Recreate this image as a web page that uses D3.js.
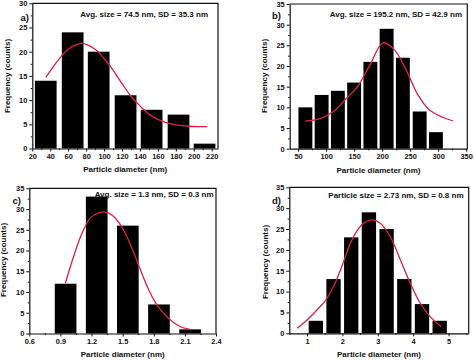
<!DOCTYPE html>
<html><head><meta charset="utf-8">
<script src="https://cdn.jsdelivr.net/npm/d3@7"></script>
<style>
html,body{margin:0;padding:0;background:#fff;}
svg text{font-family:"Liberation Sans",Arial,sans-serif;font-weight:bold;fill:#111;}
</style></head><body>
<svg id="chart" width="474" height="360"></svg>
<script>
// ---- Data ----
// Panel a
const aCenters = [35, 65, 94, 124, 153, 183, 212];
const aCounts = [14, 24, 20, 11, 8, 7, 1];
const aCurveX = [35, 50, 60, 74.5, 90, 100, 110, 120, 130, 140, 150, 160, 170, 180, 195, 215];
const aCurveY = [14.7, 18.5, 20.5, 21.7, 20.5, 18.6, 16.2, 13.4, 10.8, 8.8, 7.1, 6.0, 5.3, 4.9, 4.6, 4.5];
const aXTicks = [20, 40, 60, 80, 100, 120, 140, 160, 180, 200, 220];
const aYTicks = [0, 5, 10, 15, 20, 25, 30];
const aNote = "Avg. size = 74.5 nm, SD = 35.3 nm";
// Panel b
const bCenters = [63, 92, 121, 150, 179, 208, 237, 267, 296];
const bCounts = [10, 13, 14, 16, 21, 29, 22, 9, 4];
const bCurveX = [63, 89, 113, 136.6, 156, 178, 201.7, 222, 243, 264, 284, 308, 327];
const bCurveY = [6.7, 7.3, 9.0, 12.2, 15.0, 20.2, 25.6, 23.9, 19.0, 13.0, 9.4, 7.6, 6.7];
const bXTicks = [50, 100, 150, 200, 250, 300, 350];
const bYTicks = [0, 5, 10, 15, 20, 25, 30, 35];
const bNote = "Avg. size = 195.2 nm, SD = 42.9 nm";
// Panel c
const cCenters = [0.95, 1.25, 1.55, 1.85, 2.15];
const cCounts = [12, 33, 26, 7, 1];
const cCurveX = [0.948, 1.026, 1.107, 1.188, 1.268, 1.349, 1.43, 1.51, 1.591, 1.672, 1.752, 1.833, 1.914, 1.994, 2.075, 2.143];
const cCurveY = [12.1, 18.5, 24.1, 27.8, 29.1, 29.2, 27.8, 24.9, 20.5, 15.3, 10.5, 6.8, 4.4, 2.6, 1.45, 1.05];
const cXTicks = [0.6, 0.9, 1.2, 1.5, 1.8, 2.1, 2.4];
const cYTicks = [0, 5, 10, 15, 20, 25, 30, 35];
const cNote = "Avg. size = 1.3 nm, SD = 0.3 nm";
// Panel d
const dCenters = [1.25, 1.75, 2.25, 2.75, 3.25, 3.75, 4.25, 4.75];
const dCounts = [3, 13, 23, 29, 25, 13, 7, 3];
const dCurveX = [0.726, 1.0, 1.28, 1.5, 1.75, 2.0, 2.27, 2.55, 2.81, 3.07, 3.35, 3.64, 3.92, 4.2, 4.48, 4.79];
const dCurveY = [1.2, 3.2, 5.6, 7.6, 11.2, 16.4, 22.4, 26.0, 27.2, 26.4, 23.2, 17.6, 12.0, 7.2, 4.0, 1.6];
const dXTicks = [1, 2, 3, 4, 5];
const dYTicks = [0, 5, 10, 15, 20, 25, 30, 35];
const dNote = "Particle size = 2.73 nm, SD = 0.8 nm";

const xTitle = "Particle diameter (nm)";
const yTitle = "Frequency (counts)";

// ---- Layout ----
const panels = [
  {label:"a)", centers:aCenters, counts:aCounts, cx:aCurveX, cy:aCurveY, xt:aXTicks, yt:aYTicks, note:aNote,
   L:32.3, R:218, T:3.3, B:148.5, xd:[20,227], yd:[0,30], bw:24.2, fmt:d3.format("d"),
   labX:20.5, labY:20.5, noteR:208, noteY:17, xtY:172, ytX:10, ytY:76},
  {label:"b)", centers:bCenters, counts:bCounts, cx:bCurveX, cy:bCurveY, xt:bXTicks, yt:bYTicks, note:bNote,
   L:289.7, R:467.3, T:4, B:148.7, xd:[35,352], yd:[0,35], bw:24.8, fmt:d3.format("d"),
   labX:272, labY:18.5, noteR:462, noteY:16.5, xtY:173, ytX:267, ytY:76},
  {label:"c)", centers:cCenters, counts:cCounts, cx:cCurveX, cy:cCurveY, xt:cXTicks, yt:cYTicks, note:cNote,
   L:29.3, R:216, T:188.3, B:333.5, xd:[0.6,2.4], yd:[0,35], bw:0.209, fmt:d3.format(".1f"),
   labX:12.5, labY:204, noteR:213.5, noteY:196.5, xtY:357, ytX:6, ytY:260},
  {label:"d)", centers:dCenters, counts:dCounts, cx:dCurveX, cy:dCurveY, xt:dXTicks, yt:dYTicks, note:dNote,
   L:289.3, R:468.7, T:187.3, B:333.3, xd:[0.5,5.57], yd:[0,35], bw:0.405, fmt:d3.format("d"),
   labX:272, labY:203.5, noteR:463.5, noteY:198, xtY:357, ytX:268, ytY:262}
];

const svg = d3.select("#chart");
const RED = "#e11d48";

panels.forEach(p => {
  const x = d3.scaleLinear().domain(p.xd).range([p.L, p.R]);
  const y = d3.scaleLinear().domain(p.yd).range([p.B, p.T]);
  const g = svg.append("g");

  // bars
  g.selectAll("rect.bar").data(p.centers.map((c,i)=>({c, v:p.counts[i]}))).enter()
    .append("rect").attr("class","bar")
    .attr("x", d => x(d.c - p.bw/2))
    .attr("width", d => x(d.c + p.bw/2) - x(d.c - p.bw/2))
    .attr("y", d => y(d.v))
    .attr("height", d => y(0) - y(d.v))
    .attr("fill", "#000");

  // fitted curve
  const pts = p.cx.map((v,i)=>[v, p.cy[i]]);
  g.append("path").datum(pts)
    .attr("d", d3.line().x(d=>x(d[0])).y(d=>y(d[1])).curve(d3.curveCatmullRom.alpha(0.5)))
    .attr("fill","none").attr("stroke",RED).attr("stroke-width",1.3);

  // frame (top & right)
  g.append("path")
    .attr("d", `M${p.L},${p.T}H${p.R}V${p.B}`)
    .attr("fill","none").attr("stroke","#111").attr("stroke-width",1.2);

  // minor ticks
  const xStep = p.xt[1]-p.xt[0];
  const xMinor = [];
  const m0 = p.xt[0]-xStep/2; if (m0>=p.xd[0]) xMinor.push(m0);
  p.xt.forEach(v => { const m = v+xStep/2; if (m<=p.xd[1]) xMinor.push(m); });
  const yStep = p.yt[1]-p.yt[0];
  const yMinor = p.yt.slice(0,-1).map(v=>v+yStep/2);

  g.append("g").attr("transform",`translate(0,${p.B})`)
    .call(d3.axisBottom(x).tickValues(xMinor).tickFormat("").tickSize(1.6).tickSizeOuter(0))
    .select(".domain").remove();
  g.append("g").attr("transform",`translate(${p.L},0)`)
    .call(d3.axisLeft(y).tickValues(yMinor).tickFormat("").tickSize(1.6).tickSizeOuter(0))
    .select(".domain").remove();
  g.append("g").attr("class","xmajor").attr("transform",`translate(0,${p.B})`)
    .call(d3.axisBottom(x).tickValues(p.xt).tickFormat(p.fmt).tickSize(3).tickSizeOuter(0).tickPadding(2));
  g.append("g").attr("transform",`translate(${p.L},0)`)
    .call(d3.axisLeft(y).tickValues(p.yt).tickFormat(d3.format("d")).tickSize(3).tickSizeOuter(0).tickPadding(2));

  g.selectAll(".domain").attr("stroke","#111").attr("stroke-width",1.2);
  g.selectAll(".tick line").attr("stroke","#111").attr("stroke-width",1);
  g.selectAll(".tick text").attr("font-size","7.4px").attr("font-family",'"Liberation Sans",Arial,sans-serif')
    .attr("font-weight","bold").attr("fill","#111");

  // annotation
  g.append("text").attr("x",p.noteR).attr("y",p.noteY).attr("text-anchor","end")
    .attr("font-size","8px").text(p.note);
  // panel label
  g.append("text").attr("x",p.labX).attr("y",p.labY)
    .attr("font-family",'"Liberation Serif","Times New Roman",serif')
    .attr("font-size","9.5px").text(p.label);
  // axis titles
  g.append("text").attr("x",(p.L+p.R)/2).attr("y",p.xtY).attr("text-anchor","middle")
    .attr("font-size","8px").text(xTitle);
  g.append("text").attr("transform",`translate(${p.ytX},${p.ytY}) rotate(-90)`)
    .attr("text-anchor","middle").attr("font-size","8px").text(yTitle);
});
</script>
</body></html>
